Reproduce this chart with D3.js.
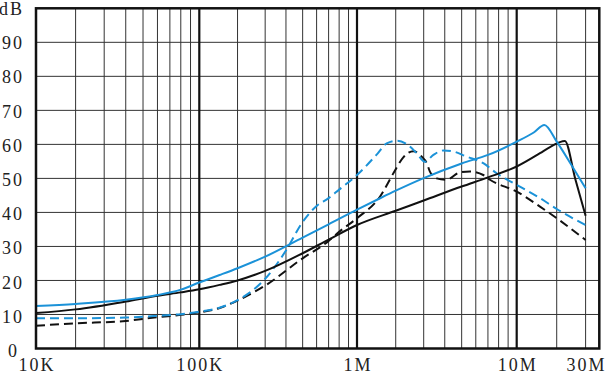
<!DOCTYPE html>
<meta charset="utf-8">
<style>
body{
    margin: 0;
    background: #fff;
}
text{
    font-family: "Liberation Serif", serif;
    font-size: 18px;
    fill: #222;
    letter-spacing: 2px;
}
.grid{
    stroke: #333;
    stroke-width: 1px;
}
.curve{
    fill: none;
    stroke-width: 2px;
    stroke-linejoin: round;
}
</style>
<body>

<div id="chart"></div>

<script src="https://d3js.org/d3.v7.min.js"></script>
<script>

// tick labels
var yTicks = [0, 10, 20, 30, 40, 50, 60, 70, 80, 90];
var xTicks = [1e4, 1e5, 1e6, 1e7, 3e7];
var xTickLabels = ["10K", "100K", "1M", "10M", "30M"];

// blue solid
var freqBlue = [1e4, 2e4, 4e4, 6e4, 8e4, 1e5, 1.5e5, 2e5, 3e5, 5e5, 7e5, 1e6, 1.5e6, 2e6, 3e6, 5e6, 7e6, 1e7, 1.4e7, 1.66e7, 2e7, 2.5e7, 3e7];
var dbBlue   = [12.5, 13.1, 14.3, 15.7, 17.3, 19.4, 21.6, 23.6, 27.0, 32.6, 36.5, 40.8, 43.8, 46.4, 50.1, 54.4, 56.9, 60.8, 63.5, 65.7, 60.8, 53.5, 47.1];

// blue dashed
var freqBlueDash = [1e4, 2e4, 4e4, 6e4, 8e4, 1e5, 1.5e5, 2e5, 3e5, 4e5, 5e5, 6e5, 7e5, 8e5, 1e6, 1.5e6, 1.74e6, 2.05e6, 2.35e6, 2.72e6, 3.05e6, 3.43e6, 3.92e6, 4.48e6, 5.34e6, 6.6e6, 7.81e6, 1e7, 1.55e7, 2e7, 3e7];
var dbBlueDash   = [8.9, 8.9, 9.1, 9.6, 10.1, 10.8, 12.0, 14.2, 20.5, 28.8, 37.2, 41.9, 44.2, 46.7, 51.0, 57.3, 60.3, 61.1, 60.1, 57.4, 54.9, 56.9, 58.2, 57.9, 56.4, 54.5, 51.5, 48.1, 44.2, 41.0, 36.3];

// black solid
var freqBlack = [1e4, 2e4, 4e4, 6e4, 8e4, 1e5, 1.5e5, 2e5, 3e5, 5e5, 7e5, 1e6, 2e6, 3e6, 5e6, 7e6, 1e7, 1.55e7, 1.81e7, 2.25e7, 2.6e7, 3e7];
var dbBlack   = [10.4, 11.5, 13.8, 15.5, 16.5, 17.4, 18.7, 20.0, 22.8, 28.0, 32.0, 36.3, 40.5, 43.5, 47.6, 50.3, 53.5, 57.4, 59.2, 61.0, 50.0, 39.0];

// black dashed
var freqBlackDash = [1e4, 2e4, 4e4, 6e4, 8e4, 1e5, 1.5e5, 2e5, 3e5, 5e5, 7e5, 8e5, 1e6, 1.56e6, 1.93e6, 2.24e6, 2.59e6, 2.92e6, 3.13e6, 3.27e6, 3.59e6, 4.1e6, 4.89e6, 5.57e6, 6.6e6, 7.18e6, 1e7, 1.55e7, 2e7, 3e7];
var dbBlackDash   = [6.7, 7.4, 8.1, 9.2, 9.9, 10.6, 11.9, 14.1, 18.5, 26.5, 31.6, 34.3, 38.3, 44.6, 51.5, 56.2, 58.0, 56.4, 54.5, 52.0, 50.0, 49.6, 51.8, 52.0, 51.0, 49.6, 46.1, 41.7, 38.3, 31.9];

var fMin = 1e4, fMax = 3.6e7;

var svg = d3.select("#chart")
  .append("svg")
    .attr("width", 612)
    .attr("height", 375);

// the printed grid squeezes the start of every decade a bit
var xDec = d3.scaleLinear()
    .domain([0, 1, 2, 3, 4])
    .range([36, 199.3, 357, 516.7, 681.7]);
function x(f){
  var l = Math.log10(f / fMin);
  var d = Math.min(Math.floor(l + 1e-9), 3);
  return xDec(d + Math.pow(Math.max(l - d, 0), 1.18));
}

var y = d3.scaleLinear()
    .domain([0, 100])
    .range([348.5, 8.3]);
// labels sit slightly lower than their grid lines
var yLab = d3.scaleLinear()
    .domain([0, 100])
    .range([357, 15]);

var left = x(fMin), right = x(fMax);

// horizontal grid
svg.selectAll(".hgrid")
    .data(yTicks.filter(function(d){ return d > 0; }))
    .enter()
    .append("line")
      .attr("class", "grid")
      .attr("x1", left)
      .attr("x2", right)
      .attr("y1", function(d){ return y(d); })
      .attr("y2", function(d){ return y(d); });

// vertical minor grid
var minor = [];
for (var dec = fMin; dec < fMax; dec *= 10) {
  for (var m = 2; m <= 9; m++) {
    if (dec * m < fMax) minor.push(dec * m);
  }
}
svg.selectAll(".vgrid")
    .data(minor)
    .enter()
    .append("line")
      .attr("class", "grid")
      .attr("x1", function(d){ return x(d); })
      .attr("x2", function(d){ return x(d); })
      .attr("y1", y(0))
      .attr("y2", y(100));

// decade lines
svg.selectAll(".decade")
    .data([1e5, 1e6, 1e7])
    .enter()
    .append("line")
      .attr("x1", function(d){ return x(d); })
      .attr("x2", function(d){ return x(d); })
      .attr("y1", y(0))
      .attr("y2", y(100))
      .attr("stroke", "#111")
      .attr("stroke-width", 2.2);

var line = d3.line()
    .x(function(d){ return x(d[0]); })
    .y(function(d){ return y(d[1]); })
    .curve(d3.curveMonotoneX);

var series = [
  {f: freqBlackDash, v: dbBlackDash, color: "#111", dash: "9,5"},
  {f: freqBlueDash, v: dbBlueDash, color: "#1b92d8", dash: "9,5"},
  {f: freqBlack, v: dbBlack, color: "#111", dash: null},
  {f: freqBlue, v: dbBlue, color: "#1b92d8", dash: null}
];

svg.selectAll(".curve")
    .data(series)
    .enter()
    .append("path")
      .attr("class", "curve")
      .attr("d", function(s){ return line(d3.zip(s.f, s.v)); })
      .attr("stroke", function(s){ return s.color; })
      .attr("stroke-dasharray", function(s){ return s.dash; });

// frame
svg.append("rect")
    .attr("x", left)
    .attr("y", y(100))
    .attr("width", right - left)
    .attr("height", y(0) - y(100))
    .attr("fill", "none")
    .attr("stroke", "#111")
    .attr("stroke-width", 2.5);

// y labels ("0" is tucked in so it clears "10K")
svg.selectAll(".ylab")
    .data(yTicks)
    .enter()
    .append("text")
      .attr("x", function(d){ return d === 0 ? 19 : 24; })
      .attr("y", function(d){ return yLab(d); })
      .attr("text-anchor", "end")
      .text(function(d){ return d; });
svg.append("text")
    .attr("x", 24)
    .attr("y", yLab(100))
    .attr("text-anchor", "end")
    .text("dB");

// x labels
svg.selectAll(".xlab")
    .data(xTicks)
    .enter()
    .append("text")
      .attr("x", function(d){ return x(d); })
      .attr("dx", 1)
      .attr("y", 371)
      .attr("text-anchor", "middle")
      .text(function(d, i){ return xTickLabels[i]; });

</script>
</body>
